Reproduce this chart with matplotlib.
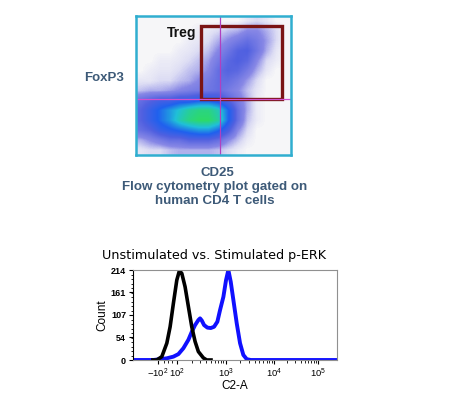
import numpy as np
import matplotlib
matplotlib.use("Agg")
import matplotlib.pyplot as plt
from matplotlib.colors import LinearSegmentedColormap
from matplotlib.patches import Rectangle

plt.rcParams['font.family'] = ['Liberation Sans', 'DejaVu Sans']
plt.rcParams['mathtext.default'] = 'regular'

# --- top panel: FoxP3 vs CD25 density (rows top -> bottom)
density = np.array([
    [0, 0, 0, 0, 0, 0, 0, 0, 0, 0, 0, .3, .5, .3, 0, 0],
    [0, 0, 0, 0, 0, 0, .2, .3, .5, .8, 1, 1.5, 1.5, 1, .5, 0],
    [0, 0, 0, 0, 0, .2, .3, .5, 1, 1.5, 2, 2.5, 2, 1.2, .5, 0],
    [0, 0, 0, 0, .2, .3, .5, .8, 1.5, 2.2, 3, 3.2, 2.2, 1, .3, 0],
    [0, 0, .2, .2, .3, .5, .8, 1.2, 2, 2.8, 3.2, 2.8, 1.5, .5, .2, 0],
    [0, .2, .3, .3, .5, .8, 1, 1.5, 2.5, 3, 2.8, 2, 1, .3, 0, 0],
    [.3, .3, .5, .5, .8, 1, 1.5, 2, 2.5, 2.5, 2, 1.2, .5, 0, 0, 0],
    [.8, 1, 1, 1.2, 1.5, 1.8, 2, 2.2, 2.5, 2, 1.5, .8, .3, 0, 0, 0],
    [2.5, 3, 3.5, 3.5, 4, 4, 4.5, 4.5, 4, 3, 2, 1, .2, 0, 0, 0],
    [3, 4, 5, 6, 7, 8, 8.5, 8.5, 7.5, 5, 2.5, 1, .2, 0, 0, 0],
    [3, 4, 5, 6, 7.5, 8.5, 9, 9, 8, 5, 2.5, .8, .2, 0, 0, 0],
    [2.5, 3, 4, 4.5, 5, 5.5, 6, 6, 5, 3.5, 1.5, .5, 0, 0, 0, 0],
    [1, 1.5, 2, 2.5, 2.5, 3, 3, 3, 2.5, 1.5, .8, .2, 0, 0, 0, 0],
    [.3, .5, .5, .8, 1, 1, 1, 1, .8, .5, .2, 0, 0, 0, 0, 0],
])
gate_x = 0.542          # CD25 quadrant line
gate_y = 0.403          # FoxP3 quadrant line
treg_box = (0.419, 0.403, 0.942, 0.928)   # x0, y0, x1, y1

# --- bottom panel: histograms (x in display decades, y in counts)
unstim_x = [1.50, 1.581, 1.685, 1.788, 1.856, 1.924, 1.994, 2.047, 2.097, 2.165,
            2.233, 2.303, 2.371, 2.439, 2.542, 2.612, 2.70]
unstim_y = [0, 0, 8, 40, 79, 135, 190, 212, 206, 174, 127, 79, 44, 20, 5, 0, 0]
stim_x = [1.09, 1.511, 1.788, 1.924, 2.027, 2.130, 2.233, 2.303, 2.371, 2.439, 2.474,
          2.509, 2.557, 2.625, 2.695, 2.763, 2.831, 2.887, 2.955, 3.010, 3.058,
          3.107, 3.161, 3.231, 3.299, 3.367, 3.437, 3.52, 5.30]
stim_y = [0, 0, 4, 8, 14, 28, 48, 67, 83, 95, 99, 94, 83, 77, 76, 79, 91, 119,
          150, 190, 214, 186, 143, 87, 40, 12, 2, 0, 0]
yticks = [0, 54, 107, 161, 214]
xtick_pos = [1.60, 2.0, 3.0, 4.0, 4.91]
xtick_lab = [r'$-10^2$', r'$10^2$', r'$10^3$', r'$10^4$', r'$10^5$']

label_col = '#3d5a78'

fig = plt.figure(figsize=(4.75, 4.08), dpi=100)
W, H = 475, 408

def px_axes(x0, y0, x1, y1):
    return fig.add_axes([x0 / W, 1 - y1 / H, (x1 - x0) / W, (y1 - y0) / H])

# scatter-like density panel
ax = px_axes(136, 16, 291, 155)
cmap = LinearSegmentedColormap.from_list('flow', [
    (0.0, '#f6f6f8'), (0.05, '#dcdcf4'), (0.15, '#8888e6'), (0.33, '#5060e0'),
    (0.5, '#2060ee'), (0.72, '#20c0d8'), (1.0, '#30e050')])
ax.imshow(density, cmap=cmap, vmin=0, vmax=9.5, extent=(0, 1, 0, 1),
          interpolation='bilinear', aspect='auto')
ax.axvline(gate_x, color='#b040c0', lw=0.9)
ax.axhline(gate_y, color='#d050d0', lw=0.9)
x0, y0, x1, y1 = treg_box
ax.add_patch(Rectangle((x0, y0), x1 - x0, y1 - y0, fill=False,
                       edgecolor='#7a1414', lw=2.4))
ax.text(0.2, 0.85, 'Treg', fontsize=10, fontweight='bold', color='#111111',
        transform=ax.transAxes)
ax.set_xlim(0, 1)
ax.set_ylim(0, 1)
ax.set_xticks([])
ax.set_yticks([])
for s in ax.spines.values():
    s.set_color('#30aed0')
    s.set_linewidth(1.8)

fig.text(104 / W, 1 - 78 / H, 'FoxP3', color=label_col, fontsize=9.5,
         fontweight='bold', ha='center', va='center')
fig.text(217 / W, 1 - 173 / H, 'CD25', color=label_col, fontsize=9.5,
         fontweight='bold', ha='center', va='center')
fig.text(215 / W, 1 - 187 / H, 'Flow cytometry plot gated on', color=label_col,
         fontsize=9.6, fontweight='bold', ha='center', va='center')
fig.text(215 / W, 1 - 201 / H, 'human CD4 T cells', color=label_col,
         fontsize=9.6, fontweight='bold', ha='center', va='center')

# histogram panel
hx = px_axes(133, 270, 337, 360)
hx.plot(stim_x, stim_y, color='#1010ff', lw=2.8, solid_joinstyle='round')
hx.plot(unstim_x, unstim_y, color='black', lw=2.6, solid_joinstyle='round')
hx.set_xlim(1.09, 5.30)
hx.set_ylim(0, 214)
hx.set_yticks(yticks)
hx.set_yticks(np.arange(0, 215, 214 / 20), minor=True)
hx.set_xticks(xtick_pos)
hx.set_xticklabels(xtick_lab)
minor_x = [n + np.log10(k) for n in (2, 3) for k in range(2, 10)]
minor_x += [4 + 0.91 * np.log10(k) for k in range(2, 10)]
minor_x += [1.72, 1.81, 1.90]
hx.set_xticks(minor_x, minor=True)
hx.tick_params(axis='both', which='major', direction='out', length=3,
               width=0.8, pad=2)
hx.tick_params(axis='y', which='major', labelsize=6.5)
hx.tick_params(axis='x', which='major', labelsize=6.8)
hx.tick_params(axis='both', which='minor', direction='out', length=1.8, width=0.6)
for lab in hx.get_yticklabels():
    lab.set_fontweight('bold')
for name in ('top', 'right', 'bottom'):
    hx.spines[name].set_color('#909090')
hx.spines['left'].set_color('black')
hx.set_ylabel('Count', fontsize=8.5,
              family=['Liberation Sans Narrow', 'Liberation Sans'], labelpad=2)
hx.set_xlabel('C2-A', fontsize=8.5, labelpad=0)
fig.text(214 / W, 1 - 255 / H, 'Unstimulated vs. Stimulated p-ERK',
         fontsize=9.2, family=['DejaVu Sans'], ha='center', va='center')

fig.savefig('out.png', dpi=100)
